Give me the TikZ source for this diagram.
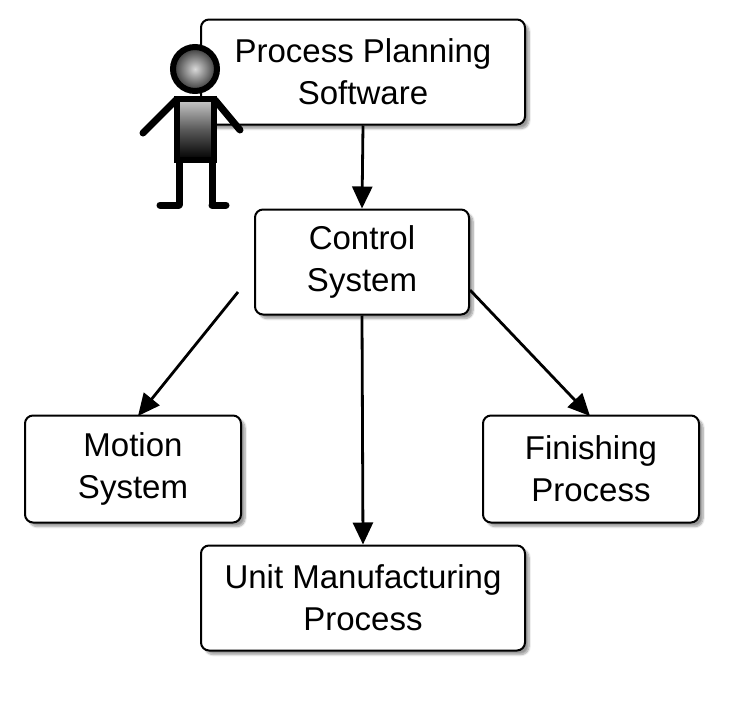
\documentclass[tikz,border=0pt]{standalone}
\usepackage{fontspec}
\setmainfont{Liberation Sans}
\usetikzlibrary{shadows.blur,arrows.meta}
\begin{document}
\begin{tikzpicture}[x=1pt,y=-1pt,
  box/.style={draw,line width=2pt,rounded corners=8pt,fill=white,align=center,
    font=\fontsize{33}{42}\selectfont,blur shadow={shadow xshift=4pt,shadow yshift=-4pt,shadow blur steps=8}},
  arr/.style={line width=2.8pt,-{Triangle[length=22pt,width=20pt]}},
  fig/.style={line width=7pt,line cap=round}]
\useasboundingbox (0,0) rectangle (732,707);
\node[box,minimum width=324pt,minimum height=105pt] (pps) at (363,72) {Process Planning\\Software};
\node[box,minimum width=214pt,minimum height=105pt] (cs) at (362,262) {Control\\System};
\node[box,minimum width=216pt,minimum height=107pt] (ms) at (133,469) {Motion\\System};
\node[box,minimum width=216pt,minimum height=107pt] (fp) at (591,469) {Finishing\\Process};
\node[box,minimum width=324pt,minimum height=105pt] (um) at (363,598) {Unit Manufacturing\\Process};
\draw[arr] (pps.south) -- (cs.north);
\draw[arr] (cs.south) -- (um.north);
\coordinate (b1) at (238,292); \coordinate (b2) at (138,416);
\coordinate (c1) at (470,290); \coordinate (c2) at (590,416);
\draw[arr] (b1) -- (b2);
\draw[arr] (c1) -- (c2);
% person
\draw[fig] (176,100) -- (143,133);
\draw[fig] (215,100) -- (240,130);
\draw[fig] (179,160) -- (179,205) (160,205) -- (179,205);
\draw[fig] (212,160) -- (212,205) (212,205) -- (226,205);
\draw[line width=6pt,top color=gray!40,bottom color=black,middle color=gray!70!black] (177,99) rectangle (214,160);
\draw[line width=6pt,inner color=gray!30,outer color=black!80] (195,69) circle (22);
\end{tikzpicture}
\end{document}
